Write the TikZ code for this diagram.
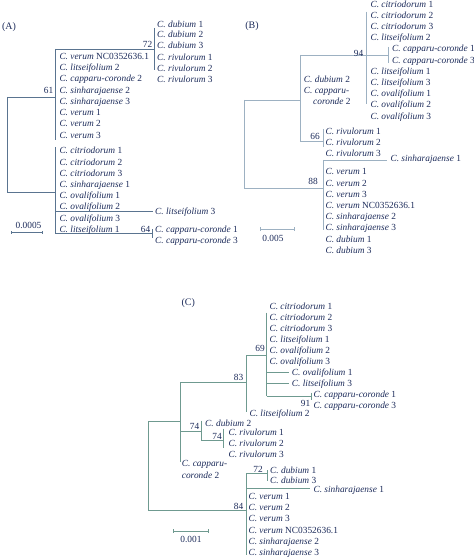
\documentclass[tikz,border=0pt]{standalone}
\usepackage{fontspec}
\setmainfont{Liberation Serif}
\definecolor{txt}{HTML}{1C2B5A}
\definecolor{lnA}{HTML}{5A7490}
\definecolor{lnB}{HTML}{9DB1C2}
\definecolor{lnC}{HTML}{6F9A90}
\newcommand\taxon[2]{\textit{C.~#1}~#2}
\begin{document}
\begin{tikzpicture}[x=1bp,y=-1bp,
  every node/.style={text=txt,font=\fontsize{9.4}{11}\selectfont,inner sep=0pt},
  lf/.style={anchor=base west,yshift=-3.2bp},
  bs/.style={anchor=base east,yshift=-3.2bp},
  sc/.style={anchor=base,yshift=-3.2bp},
  pl/.style={anchor=center,font=\fontsize{10}{12}\selectfont},
  brA/.style={draw=lnA,line width=0.8bp},
  brB/.style={draw=lnB,line width=0.8bp},
  brC/.style={draw=lnC,line width=0.8bp}]
\useasboundingbox (0,0) rectangle (474,557);
% ================= Panel A =================
\node[pl] (pA) at (9,26.7) {(A)};
\coordinate (Ar) at (7,97);   \coordinate (Arb) at (7,192);
\coordinate (A61) at (55,97); \coordinate (A72) at (154,49);
\coordinate (Alo) at (55,192); \coordinate (A64) at (152.5,233);
\draw[brA] (Ar)--(Arb);
\draw[brA] (Ar)--(A61);
\draw[brA] (55,49)--(55,140);
\draw[brA] (55,49)--(A72);
\draw[brA] (154,28)--(154,70);
\draw[brA] (Arb)--(Alo);
\draw[brA] (55,147)--(55,233);
\draw[brA] (55,211.5)--(153,211.5);
\draw[brA] (55,233)--(A64);
\draw[brA] (152.5,229)--(152.5,237.5);
\node[lf] (a1) at (157,24) {\taxon{dubium}{1}};
\node[lf] (a2) at (157,34.5) {\taxon{dubium}{2}};
\node[lf] (a3) at (157,45) {\taxon{dubium}{3}};
\node[lf] (a4) at (157,57) {\taxon{rivulorum}{1}};
\node[lf] (a5) at (157,68) {\taxon{rivulorum}{2}};
\node[lf] (a6) at (157,79) {\taxon{rivulorum}{3}};
\node[bs] (b72a) at (152.5,44.3) {72};
\node[lf] (a7) at (59.3,56) {\textit{C.~verum} NC0352636.1};
\node[lf] (a8) at (59.3,67.3) {\taxon{litseifolium}{2}};
\node[lf] (a9) at (59.3,78.6) {\taxon{capparu-coronde}{2}};
\node[lf] (a10) at (59.3,89.9) {\taxon{sinharajaense}{2}};
\node[lf] (a11) at (59.3,101.2) {\taxon{sinharajaense}{3}};
\node[lf] (a12) at (59.3,112.5) {\taxon{verum}{1}};
\node[lf] (a13) at (59.3,123.8) {\taxon{verum}{2}};
\node[lf] (a14) at (59.3,135.1) {\taxon{verum}{3}};
\node[bs] (b61) at (53.5,90) {61};
\node[lf] (a15) at (59.3,150.7) {\taxon{citriodorum}{1}};
\node[lf] (a16) at (59.3,161.9) {\taxon{citriodorum}{2}};
\node[lf] (a17) at (59.3,173.1) {\taxon{citriodorum}{3}};
\node[lf] (a18) at (59.3,184.3) {\taxon{sinharajaense}{1}};
\node[lf] (a19) at (59.3,195.5) {\taxon{ovalifolium}{1}};
\node[lf] (a20) at (59.3,206.7) {\taxon{ovalifolium}{2}};
\node[lf] (a21) at (59.3,217.9) {\taxon{ovalifolium}{3}};
\node[lf] (a22) at (59.3,229.1) {\taxon{litseifolium}{1}};
\node[lf] (a23) at (155,211.5) {\taxon{litseifolium}{3}};
\node[bs] (b64) at (150.5,229.3) {64};
\node[lf] (a24) at (155,229.3) {\taxon{capparu-coronde}{1}};
\node[lf] (a25) at (155,239.8) {\taxon{capparu-coronde}{3}};
\coordinate (sAl) at (11.7,232.7); \coordinate (sAr) at (42.7,232.7);
\draw[brA] (sAl)--(sAr);
\draw[brA] (11.7,231)--(11.7,234.4); \draw[brA] (42.7,231)--(42.7,234.4);
\node[sc] (sA) at (28.5,225) {0.0005};
% ================= Panel B =================
\node[pl] (pB) at (252,26) {(B)};
\coordinate (Br) at (244.3,100); \coordinate (Brb) at (244.3,188.3);
\coordinate (B1) at (300.3,100); \coordinate (B94) at (366.3,55);
\coordinate (Bc) at (388.7,55); \coordinate (B66) at (323,141);
\coordinate (B88) at (323,188.3);
\draw[brB] (Br)--(Brb);
\draw[brB] (Br)--(B1);
\draw[brB] (300.3,55)--(300.3,141);
\draw[brB] (300.3,55)--(Bc);
\draw[brB] (366.3,11.7)--(366.3,104);
\draw[brB] (388.7,47)--(388.7,63);
\draw[brB] (300.3,141)--(B66);
\draw[brB] (323,129)--(323,147);
\draw[brB] (Brb)--(B88);
\draw[brB] (323,160)--(323,230);
\draw[brB] (323,160)--(387,160);
\node[lf] (b1) at (370.3,4) {\taxon{citriodorum}{1}};
\node[lf] (b2) at (370.3,15.2) {\taxon{citriodorum}{2}};
\node[lf] (b3) at (370.3,26.4) {\taxon{citriodorum}{3}};
\node[lf] (b4) at (370.3,37.6) {\taxon{litseifolium}{2}};
\node[lf] (b5) at (392,48.8) {\taxon{capparu-coronde}{1}};
\node[lf] (b6) at (392,60) {\taxon{capparu-coronde}{3}};
\node[lf] (b7) at (370.3,71.2) {\taxon{litseifolium}{1}};
\node[lf] (b8) at (370.3,82.4) {\taxon{litseifolium}{3}};
\node[lf] (b9) at (370.3,93.6) {\taxon{ovalifolium}{1}};
\node[lf] (b10) at (370.3,104.8) {\taxon{ovalifolium}{2}};
\node[lf] (b11) at (370.3,116) {\taxon{ovalifolium}{3}};
\node[bs] (b94) at (363.5,53.3) {94};
\node[lf] (b12) at (303.7,79.3) {\taxon{dubium}{2}};
\node[lf] (b13) at (303.7,90.7) {\textit{C.~capparu-}};
\node[lf] (b14) at (313,101.7) {\textit{coronde}~2};
\node[bs] (b66) at (320,136) {66};
\node[lf] (b15) at (325.3,131.7) {\taxon{rivulorum}{1}};
\node[lf] (b16) at (325.3,142.7) {\taxon{rivulorum}{2}};
\node[lf] (b17) at (325.3,153.5) {\taxon{rivulorum}{3}};
\node[lf] (b18) at (390.3,158.3) {\taxon{sinharajaense}{1}};
\node[bs] (b88) at (318,181) {88};
\node[lf] (b19) at (325.3,171.7) {\taxon{verum}{1}};
\node[lf] (b20) at (325.3,182.9) {\taxon{verum}{2}};
\node[lf] (b21) at (325.3,194.1) {\taxon{verum}{3}};
\node[lf] (b22) at (325.3,205.3) {\textit{C.~verum} NC0352636.1};
\node[lf] (b23) at (325.3,216.5) {\taxon{sinharajaense}{2}};
\node[lf] (b24) at (325.3,227.7) {\taxon{sinharajaense}{3}};
\node[lf] (b25) at (325.3,238.9) {\taxon{dubium}{1}};
\node[lf] (b26) at (325.3,250.1) {\taxon{dubium}{3}};
\coordinate (sBl) at (260.3,229); \coordinate (sBr) at (294.3,229);
\draw[brB] (sBl)--(sBr);
\draw[brB] (260.3,227.3)--(260.3,230.7); \draw[brB] (294.3,227.3)--(294.3,230.7);
\node[sc] (sB) at (273,238.3) {0.005};
% ================= Panel C =================
\node[pl] (pC) at (188.3,303.3) {(C)};
\coordinate (Cr) at (148.3,421.7); \coordinate (Crb) at (148.3,510);
\coordinate (C1) at (180,421.7); \coordinate (C83) at (246,382.5);
\coordinate (C69) at (266.7,355); \coordinate (C91) at (311,396);
\coordinate (C74a) at (201.7,431); \coordinate (C74b) at (223.3,440);
\coordinate (C84) at (246,510); \coordinate (C72) at (267.3,473.3);
\draw[brC] (Cr)--(Crb);
\draw[brC] (Cr)--(C1);
\draw[brC] (180,382.5)--(180,461.7);
\draw[brC] (180,382.5)--(C83);
\draw[brC] (246,355)--(246,412);
\draw[brC] (246,355)--(C69);
\draw[brC] (266.7,312.7)--(266.7,396);
\draw[brC] (266.7,372.7)--(289,372.7);
\draw[brC] (266.7,383.7)--(289,383.7);
\draw[brC] (266.7,396)--(C91);
\draw[brC] (311,392.5)--(311,400);
\draw[brC] (180,431)--(C74a);
\draw[brC] (201.7,420.5)--(201.7,441);
\draw[brC] (201.7,440)--(C74b);
\draw[brC] (223.3,428.5)--(223.3,448.3);
\draw[brC] (Crb)--(C84);
\draw[brC] (246,473.3)--(246,555);
\draw[brC] (246,473.3)--(C72);
\draw[brC] (267.3,470)--(267.3,481);
\draw[brC] (246,488.8)--(310,488.8);
\node[lf] (c1) at (269.3,306.7) {\taxon{citriodorum}{1}};
\node[lf] (c2) at (269.3,317.7) {\taxon{citriodorum}{2}};
\node[lf] (c3) at (269.3,328.7) {\taxon{citriodorum}{3}};
\node[lf] (c4) at (269.3,339.7) {\taxon{litseifolium}{1}};
\node[lf] (c5) at (269.3,350.7) {\taxon{ovalifolium}{2}};
\node[lf] (c6) at (269.3,361.7) {\taxon{ovalifolium}{3}};
\node[lf] (c7) at (291.7,372.7) {\taxon{ovalifolium}{1}};
\node[lf] (c8) at (291.7,383.7) {\taxon{litseifolium}{3}};
\node[lf] (c9) at (313.3,394.7) {\taxon{capparu-coronde}{1}};
\node[lf] (c10) at (313.3,405.7) {\taxon{capparu-coronde}{3}};
\node[bs] (c69) at (265,348.3) {69};
\node[bs] (c83) at (243.5,377.5) {83};
\node[bs] (c91) at (310.5,403.5) {91};
\node[lf] (c11) at (249.3,413) {\taxon{litseifolium}{2}};
\node[bs] (c74a) at (199.5,426.5) {74};
\node[lf] (c12) at (205,423.3) {\taxon{dubium}{2}};
\node[bs] (c74b) at (222,436) {74};
\node[lf] (c13) at (228.3,432.7) {\taxon{rivulorum}{1}};
\node[lf] (c14) at (228.3,443.5) {\taxon{rivulorum}{2}};
\node[lf] (c15) at (228.3,454.5) {\taxon{rivulorum}{3}};
\node[lf] (c16) at (181.7,463.5) {\textit{C.~capparu-}};
\node[lf] (c17) at (181.7,475) {\textit{coronde}~2};
\node[bs] (c72) at (263,469) {72};
\node[lf] (c18) at (270,470) {\taxon{dubium}{1}};
\node[lf] (c19) at (270,480.5) {\taxon{dubium}{3}};
\node[lf] (c20) at (313.3,488.8) {\taxon{sinharajaense}{1}};
\node[bs] (c84) at (243.5,506.7) {84};
\node[lf] (c21) at (248.3,496.7) {\taxon{verum}{1}};
\node[lf] (c22) at (248.3,507.5) {\taxon{verum}{2}};
\node[lf] (c23) at (248.3,518.5) {\taxon{verum}{3}};
\node[lf] (c24) at (248.3,530) {\textit{C.~verum} NC0352636.1};
\node[lf] (c25) at (248.3,541.5) {\taxon{sinharajaense}{2}};
\node[lf] (c26) at (248.3,552.5) {\taxon{sinharajaense}{3}};
\coordinate (sCl) at (173.3,531); \coordinate (sCr) at (208.3,531);
\draw[brC] (sCl)--(sCr);
\draw[brC] (173.3,529.3)--(173.3,532.7); \draw[brC] (208.3,529.3)--(208.3,532.7);
\node[sc] (sC) at (191,539) {0.001};
\end{tikzpicture}
\end{document}
